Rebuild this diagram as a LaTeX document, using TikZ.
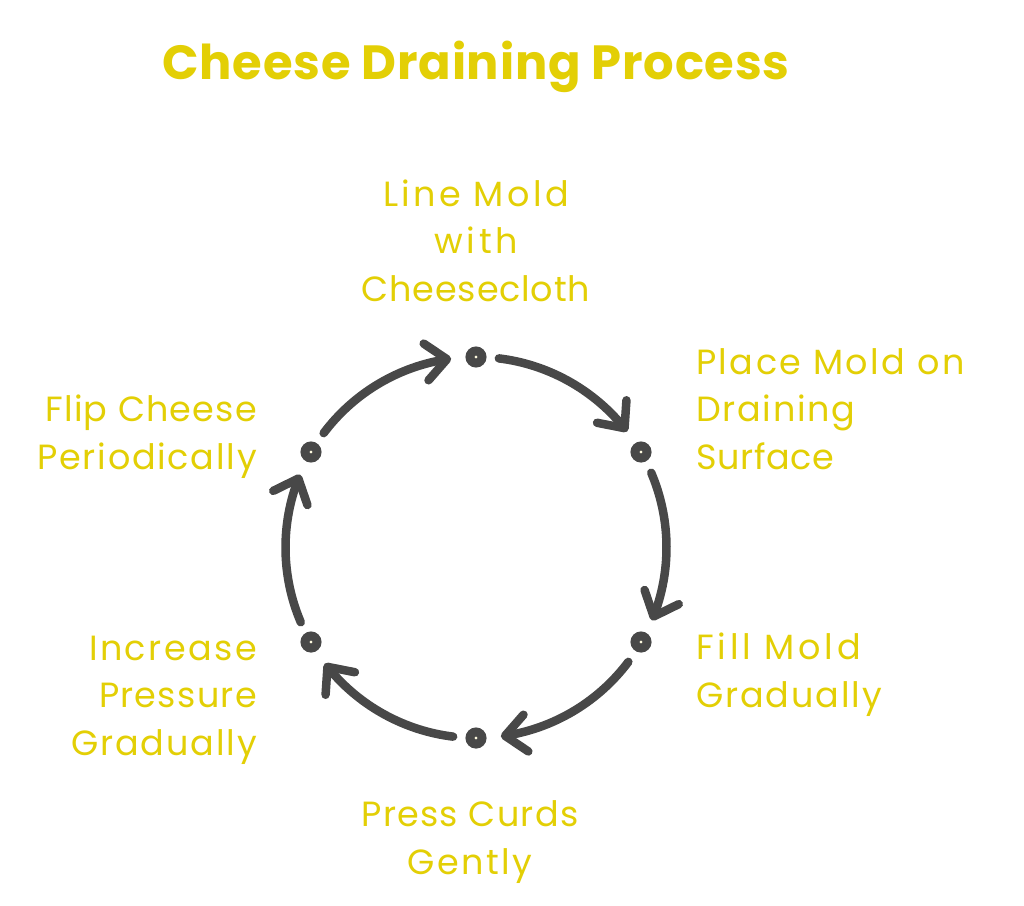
\documentclass[tikz,border=0pt]{standalone}
\usepackage{fontspec}
\usetikzlibrary{arrows.meta,bending,calc}
\setmainfont{Poppins}
\definecolor{lab}{HTML}{E3CF05}
\definecolor{ink}{HTML}{484848}
\definecolor{hole}{HTML}{FFFBE0}
\newcommand{\SL}{\strut}
\newcommand{\tw}[2]{{\addfontfeature{LetterSpace=#1}#2}}
\tikzset{
 x=1pt,y=-1pt,
 dot/.style={circle,draw=ink,fill=hole,line width=9pt,inner sep=0pt,minimum size=12pt},
 link/.style={draw=ink,line width=8.5pt,line cap=round,
   -{Straight Barb[length=21pt,width=37pt,line width=8.5pt,round,flex=1]},bend left=22.8,looseness=0.886},
 lbl/.style={text=lab,inner sep=0pt,font=\fontsize{35}{47.5}\selectfont},
 leftlbl/.style={lbl,align=left,anchor=west},
 rightlbl/.style={lbl,align=right,anchor=east},
 midlbl/.style={lbl,align=center,anchor=center},
 ttl/.style={text=lab,inner sep=0pt,font=\fontsize{48}{55}\selectfont\bfseries}
}
\begin{document}
\begin{tikzpicture}
\useasboundingbox[fill=white] (0,0) rectangle (1024,905);
\node[ttl] (title) at (476,67) {\tw{1.6}{Cheese Draining Process}};
\coordinate (cen) at (476,547.5);
\node[dot] (d1) at (476,357) {};
\node[dot] (d2) at (641,452) {};
\node[dot] (d3) at (641,642) {};
\node[dot] (d4) at (476,738) {};
\node[dot] (d5) at (311,642) {};
\node[dot] (d6) at (311,452) {};
\coordinate (s1) at ($(cen)+(-83.1:190.5)$);
\coordinate (e1) at ($(cen)+(-37.5:190.5)$);
\coordinate (s2) at ($(cen)+(-23.1:190.5)$);
\coordinate (e2) at ($(cen)+(22.5:190.5)$);
\coordinate (s3) at ($(cen)+(36.9:190.5)$);
\coordinate (e3) at ($(cen)+(82.5:190.5)$);
\coordinate (s4) at ($(cen)+(96.9:190.5)$);
\coordinate (e4) at ($(cen)+(142.5:190.5)$);
\coordinate (s5) at ($(cen)+(156.9:190.5)$);
\coordinate (e5) at ($(cen)+(202.5:190.5)$);
\coordinate (s6) at ($(cen)+(216.9:190.5)$);
\coordinate (e6) at ($(cen)+(262.5:190.5)$);
\draw[link] (s1) to (e1);
\draw[link] (s2) to (e2);
\draw[link] (s3) to (e3);
\draw[link] (s4) to (e4);
\draw[link] (s5) to (e5);
\draw[link] (s6) to (e6);
\node[midlbl] (l1) at (476,244) {\SL\tw{9.6}{Line Mold}\\\tw{11}{with}\\\tw{2.3}{Cheesecloth}\SL};
\node[leftlbl] (l2) at (696,412) {\SL\tw{7}{Place Mold on}\\\tw{5}{Draining}\\\tw{2}{Surface}\SL};
\node[leftlbl] (l3) at (696,674) {\SL\tw{11}{Fill Mold}\\\tw{5.4}{Gradually}\SL};
\node[midlbl] (l4) at (470,841) {\SL\tw{3.7}{Press Curds}\\\tw{7}{Gently}\SL};
\node[rightlbl] (l5) at (257,698) {\SL\tw{7}{Increase}\\\tw{3.7}{Pressure}\\\tw{5.4}{Gradually}\SL};
\node[rightlbl] (l6) at (257,436) {\SL\tw{3.4}{Flip Cheese}\\\tw{5}{Periodically}\SL};
\end{tikzpicture}
\end{document}
